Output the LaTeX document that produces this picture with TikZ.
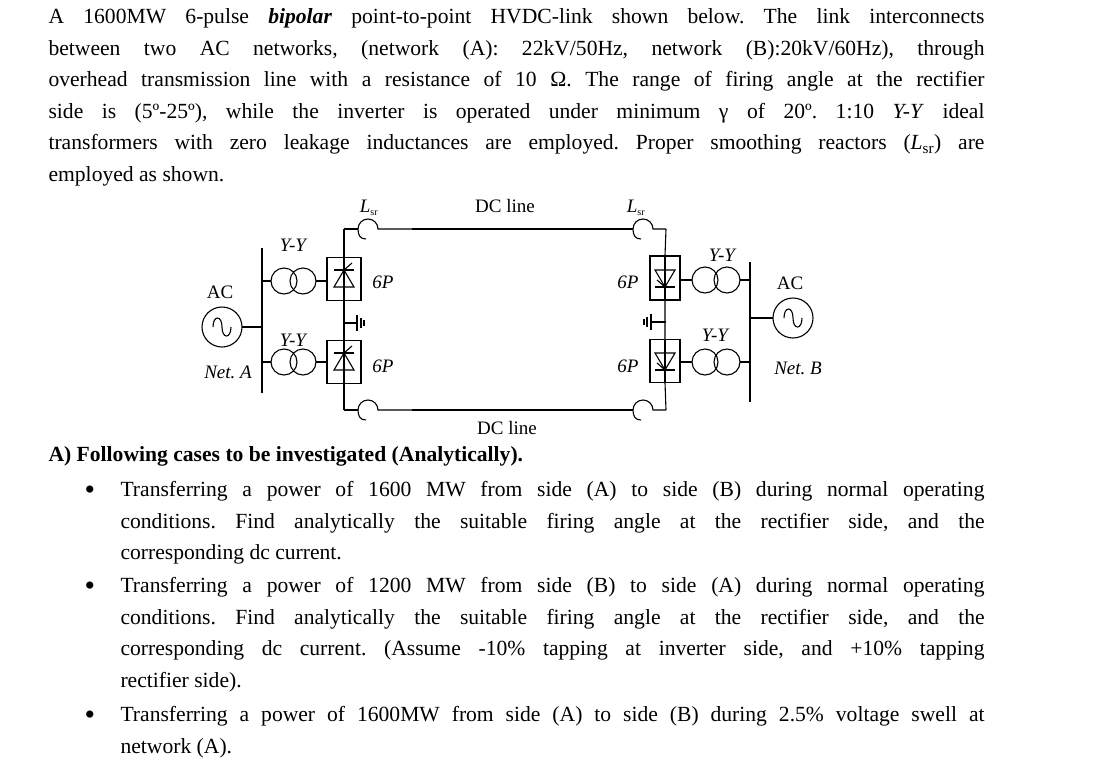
\documentclass[tikz,border=0pt]{standalone}
\usepackage{fontspec}
\setmainfont{Liberation Serif}
\frenchspacing
\begin{document}
\begin{tikzpicture}[x=1pt,y=-1pt,line width=1.1pt,
  txt/.style={anchor=north west,inner sep=0pt,align=justify,font=\fontsize{21.6}{31.6}\selectfont},
  lab/.style={inner sep=0pt,font=\fontsize{19}{22}\selectfont\itshape},
  labr/.style={inner sep=0pt,font=\fontsize{19}{22}\selectfont},
  bul/.style={inner sep=0pt,font=\fontsize{30}{31.5}\selectfont}]
\useasboundingbox (0,0) rectangle (1107,763);
\node[txt,text width=936pt] (p1) at (48,8) {A 1600MW 6-pulse \textbf{\textit{bipolar}} point-to-point HVDC-link shown below. The link interconnects\linebreak between two AC networks, (network (A): 22kV/50Hz, network (B):20kV/60Hz), through\linebreak overhead transmission line with a resistance of 10 Ω. The range of firing angle at the rectifier\linebreak side is (5º-25º), while the inverter is operated under minimum γ of 20º. 1:10 \textit{Y-Y} ideal\linebreak transformers with zero leakage inductances are employed. Proper smoothing reactors (\textit{L}\textsubscript{sr}) are\linebreak employed as shown.};
\node[txt,font=\fontsize{21.6}{31.6}\selectfont\bfseries] (h) at (48,446) {A) Following cases to be investigated (Analytically).};
\node[txt,text width=864pt] (b1) at (120,481) {Transferring a power of 1600 MW from side (A) to side (B) during normal operating\linebreak conditions. Find analytically the suitable firing angle at the rectifier side, and the\linebreak corresponding dc current.};
\node[txt,text width=864pt] (b2) at (120,577) {Transferring a power of 1200 MW from side (B) to side (A) during normal operating\linebreak conditions. Find analytically the suitable firing angle at the rectifier side, and the\linebreak corresponding dc current. (Assume -10\% tapping at inverter side, and +10\% tapping\linebreak rectifier side).};
\node[txt,text width=864pt] (b3) at (120,706) {Transferring a power of 1600MW from side (A) to side (B) during 2.5\% voltage swell at\linebreak network (A).};
\foreach \y [count=\i] in {493,589,718} \node[bul] (d\i) at (90,\y) {•};
% ---- left station
\node[draw,circle,minimum size=40pt,inner sep=0pt] (acA) at (222,327) {};
\draw (213,327) .. controls (213,315) and (222,315) .. (222,327) .. controls (222,339) and (231,339) .. (231,327);
\draw (242,327) -- (262,327);
\draw (262,248) -- (262,393);
\foreach \y/\n in {281/a,362/b}{
  \draw (262,\y) -- (271,\y);
  \node[draw,circle,minimum size=26pt,inner sep=0pt] (tl\n1) at (284,\y) {};
  \node[draw,circle,minimum size=26pt,inner sep=0pt] (tl\n2) at (303,\y) {};
  \draw (316,\y) -- (327,\y);
}
\node[draw,minimum width=34pt,minimum height=43pt,inner sep=0pt] (bla) at (344,279) {};
\node[draw,minimum width=34pt,minimum height=43pt,inner sep=0pt] (blb) at (344,362) {};
\draw (344,229) -- (bla.north) (bla.south) -- (blb.north) (blb.south) -- (344,410);
\foreach \n in {a,b}{
  \draw (bl\n.north) -- (bl\n.south);
  \draw (bl\n.center) ++(-10,8) -- ++(20,0) -- ++(-10,-17) -- cycle;
  \draw (bl\n.center) ++(-10,-9) -- ++(20,0);
  \draw (bl\n.center) ++(0,-9) -- ++(8,-7);
}
\draw (344,323) -- (357,323) (357,315) -- (357,331) (361,318) -- (361,328) (364,320) -- (364,326);
\foreach \y in {229,410}{
  \draw (344,\y) -- (358,\y);
  \draw (366,\y+10) .. controls (360,\y+10) and (358,\y+6) .. (358,\y) arc[start angle=180,end angle=360,radius=10] -- (412,\y);
}
\draw[line width=2.4pt] (412,229) -- (600,229) (412,410) -- (605,410);
% right station
\draw (600,229) -- (633,229) (605,410) -- (633,410);
\foreach \y in {229,410}{
  \draw (641,\y+10) .. controls (635,\y+10) and (633,\y+6) .. (633,\y) arc[start angle=180,end angle=360,radius=10] -- (666,\y);
}
\node[draw,minimum width=30pt,minimum height=44pt,inner sep=0pt] (bra) at (665,278) {};
\node[draw,minimum width=30pt,minimum height=43pt,inner sep=0pt] (brb) at (665,361) {};
\draw (666,229) -- (bra.north) (bra.south) -- (brb.north) (brb.south) -- (666,410);
\foreach \n in {a,b}{
  \draw (br\n.north) -- (br\n.south);
  \draw (br\n.center) ++(-10,-8) -- ++(20,0) -- ++(-10,17) -- cycle;
  \draw (br\n.center) ++(-10,9) -- ++(20,0);
  \draw (br\n.center) ++(0,9) -- ++(-8,-7);
}
\draw (666,322) -- (651,322) (651,314) -- (651,330) (647,317) -- (647,327) (644,319) -- (644,325);
\foreach \y/\n in {280/a,362/b}{
  \draw (680,\y) -- (692,\y);
  \node[draw,circle,minimum size=26pt,inner sep=0pt] (tr\n1) at (705,\y) {};
  \node[draw,circle,minimum size=26pt,inner sep=0pt] (tr\n2) at (727,\y) {};
  \draw (740,\y) -- (750,\y);
}
\draw (750,262) -- (750,402);
\draw (750,318) -- (773,318);
\node[draw,circle,minimum size=40pt,inner sep=0pt] (acB) at (793,318) {};
\draw (784,318) .. controls (784,306) and (793,306) .. (793,318) .. controls (793,330) and (802,330) .. (802,318);
% labels
\node[labr] (lac1) at (220,292) {AC};
\node[lab] (lna) at (228,372) {Net. A};
\node[lab] (lyy1) at (293,245) {Y-Y};
\node[lab] (lyy2) at (293,340) {Y-Y};
\node[lab] (l6a) at (383,282) {6P};
\node[lab] (l6b) at (383,366) {6P};
\node[labr] (ll1) at (369,208) {\textit{L}\textsubscript{\fontsize{10}{10}\selectfont sr}};
\node[labr] (ll2) at (636,208) {\textit{L}\textsubscript{\fontsize{10}{10}\selectfont sr}};
\node[labr] (dc1) at (505,206) {DC line};
\node[labr] (dc2) at (507,428) {DC line};
\node[lab] (r6a) at (628,282) {6P};
\node[lab] (r6b) at (628,366) {6P};
\node[lab] (ryy1) at (722,255) {Y-Y};
\node[lab] (ryy2) at (715,335) {Y-Y};
\node[labr] (lac2) at (790,283) {AC};
\node[lab] (lnb) at (798,368) {Net. B};
\end{tikzpicture}
\end{document}
